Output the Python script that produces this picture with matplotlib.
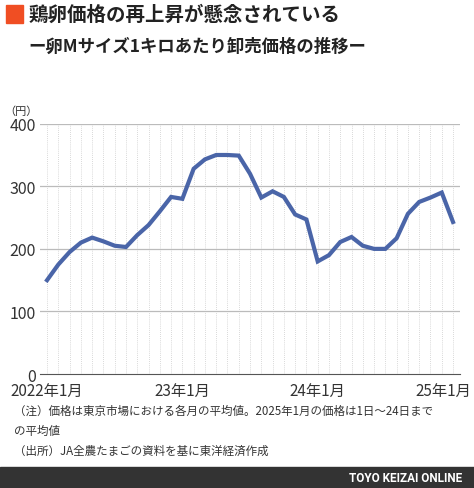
import matplotlib.pyplot as plt
import matplotlib.transforms as mtransforms
import numpy as np

plt.rcParams['font.family'] = ['Noto Sans CJK JP', 'DejaVu Sans']

# 卸売価格（円/kg）2022年1月〜2025年1月
prices = [150, 175, 195, 210, 218, 212, 205, 203, 222, 238, 260, 283,
          280, 328, 343, 350, 350, 349, 320, 282, 292, 283, 255, 247,
          180, 190, 211, 219, 205, 200, 200, 217, 256, 275, 282, 290,
          243]
tick_pos = [0, 12, 24, 36]
tick_labels = ['2022年1月', '23年1月', '24年1月', '25年1月']
y_ticks = [0, 100, 200, 300, 400]

fig = plt.figure(figsize=(4.74, 4.89), dpi=100)
ax = fig.add_axes([0.085, 0.233, 0.885, 0.512])

x = np.arange(len(prices))
for i in x:
    ax.axvline(i, color='#cccccc', lw=0.6, ls=(0, (1, 1.5)), zorder=0)
for yv in y_ticks[1:]:
    ax.axhline(yv, color='#bbbbbb', lw=0.9, zorder=0)
ax.plot(x, prices, color='#4a65a8', lw=3, solid_joinstyle='miter', zorder=3)

ax.set_xlim(-0.6, 36.6)
ax.set_ylim(0, 400)
ax.set_yticks(y_ticks)
ax.set_xticks(tick_pos)
ax.set_xticklabels(tick_labels)
ax.tick_params(length=0, labelsize=11.5, colors='#333333')
ax.tick_params(axis='x', pad=6, labelsize=11)
ax.tick_params(axis='y', pad=3)
# 最後のラベルを少し左へ
last = ax.get_xticklabels()[-1]
last.set_transform(last.get_transform() + mtransforms.ScaledTranslation(-0.1, 0, fig.dpi_scale_trans))
for s in ['top', 'right', 'left']:
    ax.spines[s].set_visible(False)
ax.spines['bottom'].set_color('#555555')
ax.text(-0.085, 1.04, '（円）', transform=ax.transAxes, fontsize=8, color='#333333')

fig.patches.append(plt.Rectangle((0.013, 0.951), 0.035, 0.036, transform=fig.transFigure,
                                 color='#f04e23'))
fig.text(0.06, 0.969, '鶏卵価格の再上昇が懸念されている', fontsize=14, fontweight='bold',
         va='center', color='#222222')
fig.text(0.06, 0.905, 'ー卵Mサイズ1キロあたり卸売価格の推移ー', fontsize=12.5, fontweight='bold',
         va='center', color='#222222')

fig.text(0.03, 0.158, '（注）価格は東京市場における各月の平均値。2025年1月の価格は1日〜24日まで',
         fontsize=8.3, va='center', color='#333333')
fig.text(0.03, 0.118, 'の平均値', fontsize=8.3, va='center', color='#333333')
fig.text(0.03, 0.078, '（出所）JA全農たまごの資料を基に東洋経済作成', fontsize=8.3, va='center', color='#333333')

fig.patches.append(plt.Rectangle((0, 0), 1, 0.042, transform=fig.transFigure, color='#333333'))
fig.text(0.975, 0.021, 'TOYO KEIZAI ONLINE', fontsize=8.5, color='white', ha='right', va='center',
         family='Roboto', fontweight='bold')

fig.savefig('out.png', dpi=100)
